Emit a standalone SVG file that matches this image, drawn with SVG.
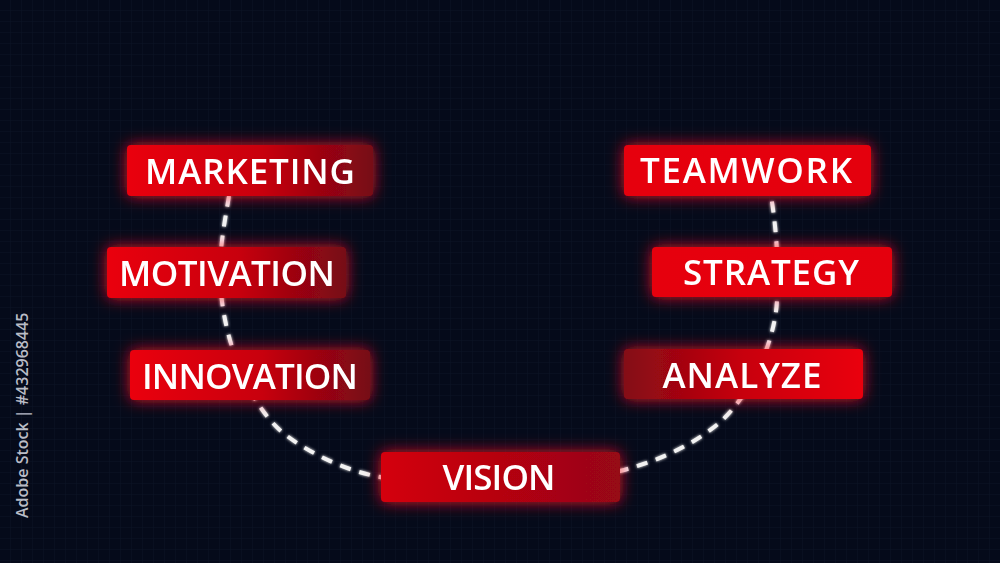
<svg xmlns="http://www.w3.org/2000/svg" width="1000" height="563" viewBox="0 0 1000 563">
<defs>
<pattern id="grid" width="11" height="11" patternUnits="userSpaceOnUse">
<path d="M11 0V11M0 11H11" fill="none" stroke="#0c1325" stroke-width="1"/>
</pattern>
<linearGradient id="gL" x1="0" y1="0" x2="1" y2="0">
<stop offset="0" stop-color="#ea000f"/><stop offset="0.55" stop-color="#c8000f"/><stop offset="1" stop-color="#760913"/>
</linearGradient>
<linearGradient id="gB" x1="0" y1="0" x2="1" y2="0">
<stop offset="0" stop-color="#e6000f"/><stop offset="1" stop-color="#e4000f"/>
</linearGradient>
<linearGradient id="gR" x1="0" y1="0" x2="1" y2="0">
<stop offset="0" stop-color="#840a13"/><stop offset="0.5" stop-color="#c8000f"/><stop offset="1" stop-color="#ea0010"/>
</linearGradient>
<linearGradient id="gV" x1="0" y1="0" x2="1" y2="0">
<stop offset="0" stop-color="#d4000f"/><stop offset="1" stop-color="#960713"/>
</linearGradient>
<filter id="glow" x="-25%" y="-80%" width="150%" height="260%">
<feGaussianBlur in="SourceAlpha" stdDeviation="8" result="b"/>
<feFlood flood-color="#ff1424" flood-opacity="0.85"/>
<feComposite in2="b" operator="in" result="g"/>
<feMerge><feMergeNode in="g"/><feMergeNode in="SourceGraphic"/></feMerge>
</filter>
<filter id="dglow" x="-10%" y="-10%" width="120%" height="120%">
<feGaussianBlur in="SourceGraphic" stdDeviation="1.5" result="b"/>
<feMerge><feMergeNode in="b"/><feMergeNode in="SourceGraphic"/></feMerge>
</filter>
</defs>
<style>
.lbl{font-family:"Open Sans","Noto Sans","DejaVu Sans",sans-serif;font-size:35px;font-weight:600;fill:#ffffff;text-anchor:middle}
.box{filter:url(#glow)}
.dash{fill:none;stroke:#f2f2f2;stroke-width:4;stroke-dasharray:11 9}
.wm{font-family:"Open Sans","Noto Sans",sans-serif;font-size:16px;font-weight:600;fill:#b9bcc6}
</style>
<rect width="1000" height="563" fill="#050a1a"/>
<rect width="1000" height="563" fill="url(#grid)"/>
<g id="connectors" filter="url(#dglow)">
<path class="dash" d="M229 196 C225 220 220 245 220 272 C220 330 245 400 282 432 C305 451 345 471 380 477 C430 486 570 484 620 471 C655 462 690 447 718 424 C748 398 775 345 777 300 C779 265 776 225 771 196"/>
</g>
<g id="marketing" class="box"><rect x="127" y="145" width="246" height="51" rx="4" fill="url(#gL)"/><text class="lbl" x="250" y="184" textLength="210">MARKETING</text></g>
<g id="motivation" class="box"><rect x="107" y="247" width="239" height="51" rx="4" fill="url(#gL)"/><text class="lbl" x="227" y="286" textLength="216">MOTIVATION</text></g>
<g id="innovation" class="box"><rect x="130" y="350" width="240" height="50" rx="4" fill="url(#gL)"/><text class="lbl" x="250" y="389" textLength="216">INNOVATION</text></g>
<g id="vision" class="box"><rect x="381" y="452" width="239" height="50" rx="4" fill="url(#gV)"/><text class="lbl" x="499" y="490" textLength="113">VISION</text></g>
<g id="teamwork" class="box"><rect x="624" y="145" width="247" height="51" rx="4" fill="url(#gB)"/><text class="lbl" x="746" y="183" textLength="212">TEAMWORK</text></g>
<g id="strategy" class="box"><rect x="652" y="247" width="240" height="50" rx="4" fill="url(#gB)"/><text class="lbl" x="771" y="285" textLength="176">STRATEGY</text></g>
<g id="analyze" class="box"><rect x="624" y="349" width="239" height="50" rx="4" fill="url(#gR)"/><text class="lbl" x="742" y="388" textLength="159">ANALYZE</text></g>
<text class="wm" transform="translate(28 518) rotate(-90)">Adobe Stock | #432968445</text>
</svg>
